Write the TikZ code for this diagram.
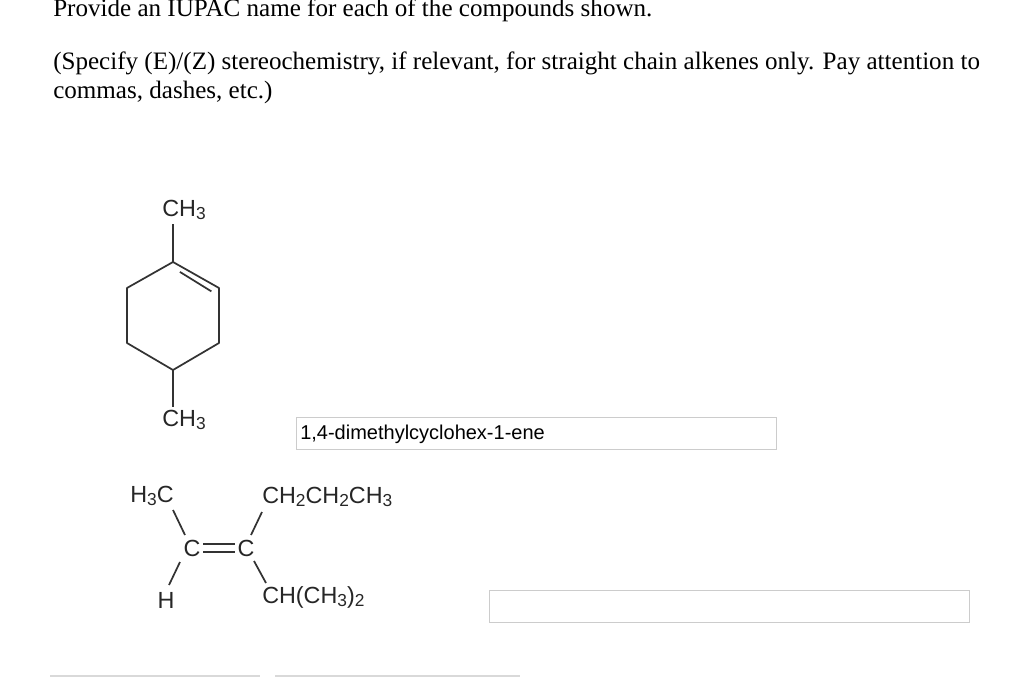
\documentclass[tikz,border=0pt]{standalone}
\usetikzlibrary{calc}
\usepackage{fontspec}
\setmainfont{Liberation Serif}
\newfontfamily\chemf{Liberation Sans}
\newcommand{\sbs}[1]{\raisebox{-0.3ex}{\fontsize{13}{13}\selectfont #1}}
\begin{document}
\begin{tikzpicture}[x=0.75pt,y=-0.75pt,
  bond/.style={line width=1.3pt,draw=black!80},
  chem/.style={font=\chemf\fontsize{17.5}{17.5}\selectfont,inner sep=0pt,text=black!85},
  ttl/.style={font=\fontsize{18.8}{22}\selectfont,inner sep=0pt,anchor=west}]
\useasboundingbox (0,0) rectangle (1024,677);
\node[ttl] (t1) at (53,10) {Provide an IUPAC name for each of the compounds shown.};
\node[ttl] (t2) at (53,63) {(Specify (E)/(Z) stereochemistry, if relevant, for straight chain alkenes only. Pay attention to};
\node[ttl] (t3) at (53,92) {commas, dashes, etc.)};
% ring
\coordinate (r1) at (173,262); \coordinate (r2) at (219,288); \coordinate (r3) at (219,343);
\coordinate (r4) at (173,370); \coordinate (r5) at (127,343); \coordinate (r6) at (127,288);
\draw[bond,line join=round] (r1)--(r2)--(r3)--(r4)--(r5)--(r6)--cycle;
\draw[bond] ($(r1)!0.15!(r2)+(0,6)$) -- ($(r1)!0.9!(r2)+(-3,6)$);
\node[chem] (m1) at (184,210) {CH\sbs{3}};
\node[chem] (m2) at (184,420) {CH\sbs{3}};
\draw[bond] (r1) -- (173,224);
\draw[bond] (r4) -- (173,407);
\node[draw=black!20,minimum width=480*0.75pt,minimum height=32*0.75pt,anchor=north west,inner sep=0pt] (b1) at (296,417) {};
\node[anchor=west,font=\chemf\fontsize{15}{15}\selectfont,inner sep=0pt] (a1) at (300,434) {1,4-dimethylcyclohex-1-ene};
% alkene
\node[chem] (c1) at (192,548) {C};
\node[chem] (c2) at (246,548) {C};
\node[chem] (h3c) at (152,496) {H\sbs{3}C};
\node[chem] (h) at (166,600) {H};
\node[chem,anchor=west] (pr) at (262,497) {CH\sbs{2}CH\sbs{2}CH\sbs{3}};
\node[chem,anchor=west] (ip) at (262,597) {CH(CH\sbs{3})\sbs{2}};
\draw[bond] (173,510) -- (185,535);
\draw[bond] (180,562) -- (169,585);
\draw[bond] (262,512) -- (251,535);
\draw[bond] (254,561) -- (266,583);
\draw[bond] (203,544) -- (235,544);
\draw[bond] (203,552) -- (235,552);
\node[draw=black!20,minimum width=480*0.75pt,minimum height=32*0.75pt,anchor=north west,inner sep=0pt] (b2) at (489,590) {};
\draw[black!15,line width=2pt] (50,676) -- (260,676);
\draw[black!15,line width=2pt] (275,676) -- (520,676);
\end{tikzpicture}
\end{document}
